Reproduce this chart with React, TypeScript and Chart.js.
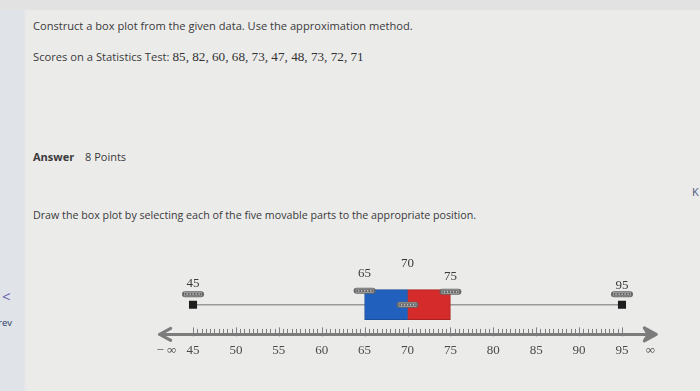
import React, { useEffect, useRef } from "react";
import { Chart, registerables } from "chart.js";

Chart.register(...registerables);

// ---- data ----
const scores = [85, 82, 60, 68, 73, 47, 48, 73, 72, 71];
const fiveNumber = [45, 65, 70, 75, 95]; // positions shown in picture: min, Q1, median, Q3, max
const fiveLabels = ["45", "65", "70", "75", "95"];
const axisTickValues = [41.9, 45, 50, 55, 60, 65, 70, 75, 80, 85, 90, 95, 98.3];
const axisTickLabels = ["− ∞", "45", "50", "55", "60", "65", "70", "75", "80", "85", "90", "95", "∞"];
const axisMin = 41;
const axisMax = 99;
const minorStart = 45;
const minorEnd = 95;
const minorStep = 0.5;
const rowLabels = ["plot"];

// ---- styles ----
const labelOffsets = [-21, -31, -41, -28, -19];
const handleOffsets = [-10.5, -14, 0, -13, -10.5];
const BLUE = "#2161bd";
const RED = "#d52b2b";
const AXIS = "#7c7c7c";

function drawHandle(ctx: CanvasRenderingContext2D, cx: number, cy: number) {
  const w = 22, h = 6;
  ctx.save();
  ctx.fillStyle = "#666666";
  ctx.beginPath();
  (ctx as any).roundRect(cx - w / 2, cy - h / 2, w, h, 3);
  ctx.fill();
  ctx.strokeStyle = "rgba(220,220,220,0.6)";
  ctx.lineWidth = 0.7;
  ctx.strokeRect(cx - 8.5, cy - 1.8, 17, 3.6);
  ctx.fillStyle = "#c8c8c8";
  for (let i = -6; i <= 6; i += 3) ctx.fillRect(cx + i - 0.5, cy - 0.8, 1.2, 1.6);
  ctx.restore();
}

const overlay = {
  id: "overlay",
  beforeDatasetsDraw(chart: any) {
    const { ctx, chartArea, scales } = chart;
    const x = scales.x;
    const y0 = chartArea.bottom;
    const left = x.getPixelForValue(axisMin) + 1;
    const right = x.getPixelForValue(axisMax) - 1;
    ctx.save();
    // minor ticks
    ctx.strokeStyle = "#7f7f7f";
    ctx.lineWidth = 1;
    for (let v = minorStart; v <= minorEnd + 1e-9; v += minorStep) {
      const px = Math.round(x.getPixelForValue(v)) + 0.5;
      const major = Math.abs(v % 5) < 1e-9;
      ctx.beginPath();
      ctx.moveTo(px, y0 - (major ? 7 : 5.5));
      ctx.lineTo(px, y0 + (major ? 2 : 1));
      ctx.stroke();
    }
    // axis line
    ctx.strokeStyle = AXIS;
    ctx.lineWidth = 3;
    ctx.lineCap = "round";
    ctx.lineJoin = "round";
    ctx.beginPath();
    ctx.moveTo(left, y0);
    ctx.lineTo(right, y0);
    ctx.stroke();
    // arrows
    ctx.beginPath();
    ctx.moveTo(left + 11, y0 - 6);
    ctx.lineTo(left, y0);
    ctx.lineTo(left + 11, y0 + 6);
    ctx.stroke();
    ctx.fillStyle = AXIS;
    ctx.beginPath();
    ctx.moveTo(right + 1, y0);
    ctx.lineTo(right - 11, y0 - 6.5);
    ctx.lineTo(right - 7, y0);
    ctx.lineTo(right - 11, y0 + 6.5);
    ctx.closePath();
    ctx.fill();
    ctx.stroke();
    ctx.restore();
  },
  afterDatasetsDraw(chart: any) {
    const { ctx, scales } = chart;
    const x = scales.x;
    const yc = scales.y.getPixelForValue(0);
    ctx.save();
    fiveNumber.forEach((v, i) => {
      const px = x.getPixelForValue(v);
      drawHandle(ctx, px, yc + handleOffsets[i]);
    });
    ctx.fillStyle = "#3a3a3a";
    ctx.font = "13px 'Liberation Serif', 'DejaVu Serif', serif";
    ctx.textAlign = "center";
    ctx.textBaseline = "middle";
    fiveNumber.forEach((v, i) => {
      const px = x.getPixelForValue(v);
      ctx.fillText(fiveLabels[i], px, yc + labelOffsets[i]);
    });
    ctx.restore();
  },
};

function BoxPlotChart() {
  const ref = useRef<HTMLCanvasElement | null>(null);
  useEffect(() => {
    if (!ref.current) return;
    const chart = new Chart(ref.current, {
      type: "bar",
      data: {
        labels: rowLabels,
        datasets: [
          {
            type: "scatter",
            label: "ends",
            data: [
              { x: fiveNumber[0], y: rowLabels[0] },
              { x: fiveNumber[4], y: rowLabels[0] },
            ],
            pointStyle: "rect",
            pointRadius: 5.7,
            backgroundColor: "#1e1e1e",
            borderColor: "#1e1e1e",
            borderWidth: 0,
            order: 0,
          } as any,
          {
            label: "Q1-median",
            data: [[fiveNumber[1], fiveNumber[2]]],
            backgroundColor: BLUE,
            borderColor: "#1b4f9a",
            borderWidth: 1,
            borderSkipped: false,
            barThickness: 30,
            grouped: false,
            order: 1,
          } as any,
          {
            label: "median-Q3",
            data: [[fiveNumber[2], fiveNumber[3]]],
            backgroundColor: RED,
            borderColor: "#a82222",
            borderWidth: 1,
            borderSkipped: false,
            barThickness: 30,
            grouped: false,
            order: 1,
          } as any,
          {
            type: "line",
            label: "whisker",
            data: [
              { x: fiveNumber[0], y: rowLabels[0] },
              { x: fiveNumber[4], y: rowLabels[0] },
            ],
            borderColor: "#9a9a9a",
            borderWidth: 1.6,
            pointRadius: 0,
            indexAxis: "x",
            order: 3,
          } as any,
        ],
      },
      options: {
        indexAxis: "y",
        responsive: false,
        animation: false,
        events: [],
        layout: { padding: { left: 158.7, right: 43.7, top: 275, bottom: 25 } },
        plugins: { legend: { display: false }, tooltip: { enabled: false } },
        scales: {
          x: {
            type: "linear",
            min: axisMin,
            max: axisMax,
            border: { display: false },
            grid: { display: false, drawTicks: false },
            afterBuildTicks: (scale: any) => {
              scale.ticks = axisTickValues.map((v) => ({ value: v }));
            },
            ticks: {
              autoSkip: false,
              maxRotation: 0,
              padding: 8,
              color: "#4a4a4a",
              font: { family: "'Liberation Serif', 'DejaVu Serif', serif", size: 13 },
              callback: (v: any) => {
                const i = axisTickValues.indexOf(Number(v));
                return i >= 0 ? axisTickLabels[i] : "";
              },
            },
          },
          y: {
            type: "category",
            labels: rowLabels,
            offset: true,
            display: false,
          },
        },
      } as any,
      plugins: [overlay],
    });
    return () => chart.destroy();
  }, []);
  return (
    <canvas
      ref={ref}
      width={700}
      height={391}
      style={{ position: "absolute", left: 0, top: 0, width: 700, height: 391, display: "block" }}
    />
  );
}

const sans = "'Open Sans', 'Noto Sans', sans-serif";
const serif = "'Liberation Serif', 'DejaVu Serif', serif";

export default function App() {
  const text: React.CSSProperties = {
    position: "absolute",
    fontFamily: sans,
    color: "#3a3a3a",
    whiteSpace: "nowrap",
    lineHeight: 1,
  };
  return (
    <div
      style={{
        position: "fixed",
        left: 0,
        top: 0,
        width: 700,
        height: 391,
        overflow: "hidden",
        background: "#ebebea",
      }}
    >
      <div style={{ position: "absolute", left: 0, top: 0, width: 24, height: 391, background: "#e0e3e7" }} />
      <div style={{ position: "absolute", left: 24, top: 0, width: 2, height: 391, background: "#e6e7e8" }} />
      <div style={{ position: "absolute", left: 0, top: 0, width: 700, height: 10, background: "#e2e2e2" }} />
      <div style={{ ...text, left: 33, top: 20, fontSize: 11.1 }}>
        Construct a box plot from the given data. Use the approximation method.
      </div>
      <div style={{ ...text, left: 33, top: 50, fontSize: 11.2 }}>
        Scores on a Statistics Test:{" "}
        <span style={{ fontFamily: serif, fontSize: 13.2, color: "#333" }}>{scores.join(", ")}</span>
      </div>
      <div style={{ ...text, left: 33, top: 151, fontSize: 11, fontWeight: 700 }}>Answer</div>
      <div style={{ ...text, left: 85, top: 151, fontSize: 11 }}>8 Points</div>
      <div style={{ ...text, left: 33, top: 210, fontSize: 10.7 }}>
        Draw the box plot by selecting each of the five movable parts to the appropriate position.
      </div>
      <div style={{ ...text, left: 2, top: 289, fontSize: 15, color: "#6a5fb0" }}>&lt;</div>
      <div style={{ ...text, left: -2, top: 318, fontSize: 9.5, color: "#2d3a6a" }}>rev</div>
      <div style={{ ...text, left: 692, top: 186, fontSize: 11, color: "#4a5a80" }}>K</div>
      <BoxPlotChart />
    </div>
  );
}
